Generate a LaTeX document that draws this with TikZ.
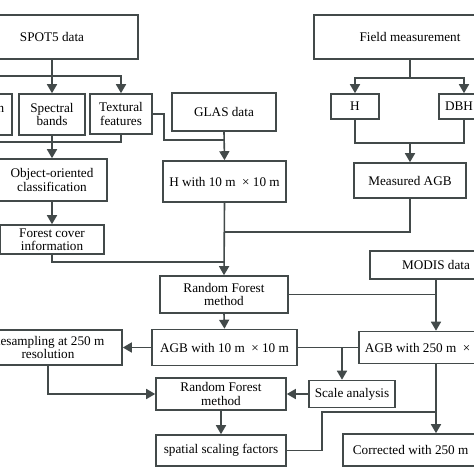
\documentclass[tikz,border=0pt]{standalone}
\usepackage{fontspec}
\setmainfont{Liberation Serif}
\usetikzlibrary{arrows.meta}
\definecolor{lc}{HTML}{434A4A}
\begin{document}
\begin{tikzpicture}[x=1pt,y=-1pt,
  box/.style={draw=lc, line width=1.6pt, inner sep=0pt, align=center,
    font=\fontsize{13.2}{13.5}\selectfont, text=black},
  ln/.style={draw=lc, line width=1.6pt},
  arr/.style={ln, -{Triangle[length=9pt,width=10pt]}}]
\clip (0,0) rectangle (474,474);
\fill[white] (0,0) rectangle (474,474);
% top row
\node[box, minimum width=172, minimum height=44] (spot) at (52,37) {SPOT5 data};
\node[box, minimum width=192, minimum height=44] (field) at (410,37) {Field measurement};
\node[box, minimum width=72, minimum height=41] (veg) at (-24,114.5) {Vegetation\\index};
\node[box, minimum width=66, minimum height=41] (spec) at (52,114.5) {Spectral\\bands};
\node[box, minimum width=62, minimum height=40] (textu) at (121,114) {Textural\\features};
\node[box, minimum width=104, minimum height=38] (glas) at (224,112) {GLAS data};
\node[box, minimum width=48, minimum height=25] (h) at (355,106.5) {H};
\node[box, minimum width=40, minimum height=25] (dbh) at (459,106.5) {DBH};
% second row
\node[box, minimum width=110, minimum height=42] (obj) at (52,180) {Object-oriented\\classification};
\node[box, minimum width=123, minimum height=41] (h10) at (224.5,181.5) {H with 10 m\ \ × 10 m};
\node[box, minimum width=112, minimum height=35] (mag) at (410,180.5) {Measured AGB};
\node[box, minimum width=104, minimum height=29] (forest) at (52,239.5) {Forest cover\\information};
\node[box, minimum width=132, minimum height=28] (modis) at (436,265) {MODIS data};
\node[box, minimum width=128, minimum height=37] (rf1) at (224,294.5) {Random Forest\\method};
% third row
\node[box, minimum width=148, minimum height=35] (resamp) at (48,347.5) {Resampling at 250 m\\resolution};
\node[box, minimum width=145, minimum height=36] (agb10) at (224.5,347.5) {AGB with 10 m\ \ × 10 m};
\node[box, minimum width=154, minimum height=32] (agb250) at (436,347.5) {AGB with 250 m\ \ × 250 m};
\node[box, minimum width=86, minimum height=27] (scale) at (352,394) {Scale analysis};
\node[box, minimum width=130, minimum height=32] (rf2) at (221,394) {Random Forest\\method};
\node[box, minimum width=130, minimum height=31] (ssf) at (221,450.5) {spatial scaling factors};
\node[box, minimum width=186, minimum height=32] (corr) at (436,450) {Corrected with 250 m\ \ × 250 m};
% junction coordinates
\coordinate (js) at (52,76);
\coordinate (jb) at (52,142);
\coordinate (jf) at (410,78);
\coordinate (jm) at (410,143);
\coordinate (jd) at (464,78);
\coordinate (jdb) at (464,119);
\coordinate (jt) at (224,140);
\coordinate (jfc) at (224,262);
\coordinate (jma) at (224,232);
\coordinate (jsc) at (342,347.5);
\coordinate (jc) at (436,412);
\coordinate (jk) at (322,412);
% SPOT5 branch
\draw[ln] (spot.south) -- (js);
\draw[arr] (js) -| (veg.north);
\draw[arr] (js) -| (textu.north);
\draw[arr] (js) -- (spec.north);
\draw[ln] (veg.south) |- (jb) -| (textu.south);
\draw[ln] (spec.south) -- (jb);
\draw[arr] (jb) -- (obj.north);
\draw[arr] (obj.south) -- (forest.north);
\draw[ln] (textu.east) -- ++(11,0) |- (jt);
% GLAS
\draw[arr] (glas.south) -- (h10.north);
\draw[arr] (h10.south) -- (rf1.north);
\draw[ln] (forest.south) |- (jfc);
\draw[ln] (mag.south) |- (jma);
% Field
\draw[ln] (field.south) -- (jf);
\draw[arr] (jf) -| (h.north);
\draw[arr] (jf) -- (jd) -- (jd |- dbh.north);
\draw[ln] (h.south) |- (jm) -| (jdb);
\draw[arr] (jm) -- (mag.north);
% MODIS and RF1
\draw[arr] (modis.south) -- (agb250.north);
\draw[ln] (rf1.east) -- (rf1.east -| modis.south);
\draw[arr] (rf1.south) -- (agb10.north);
% third row
\draw[arr] (agb10.west) -- (resamp.east);
\draw[ln] (agb10.east) -- (agb250.west);
\draw[arr] (jsc) -- (jsc |- scale.north);
\draw[arr] (scale.west) -- (rf2.east);
\draw[arr] (resamp.south) |- (rf2.west);
\draw[arr] (rf2.south) -- (ssf.north);
\draw[ln] (ssf.east) -| (jk) -- (jc);
\draw[arr] (agb250.south) -- (corr.north);
\end{tikzpicture}
\end{document}
